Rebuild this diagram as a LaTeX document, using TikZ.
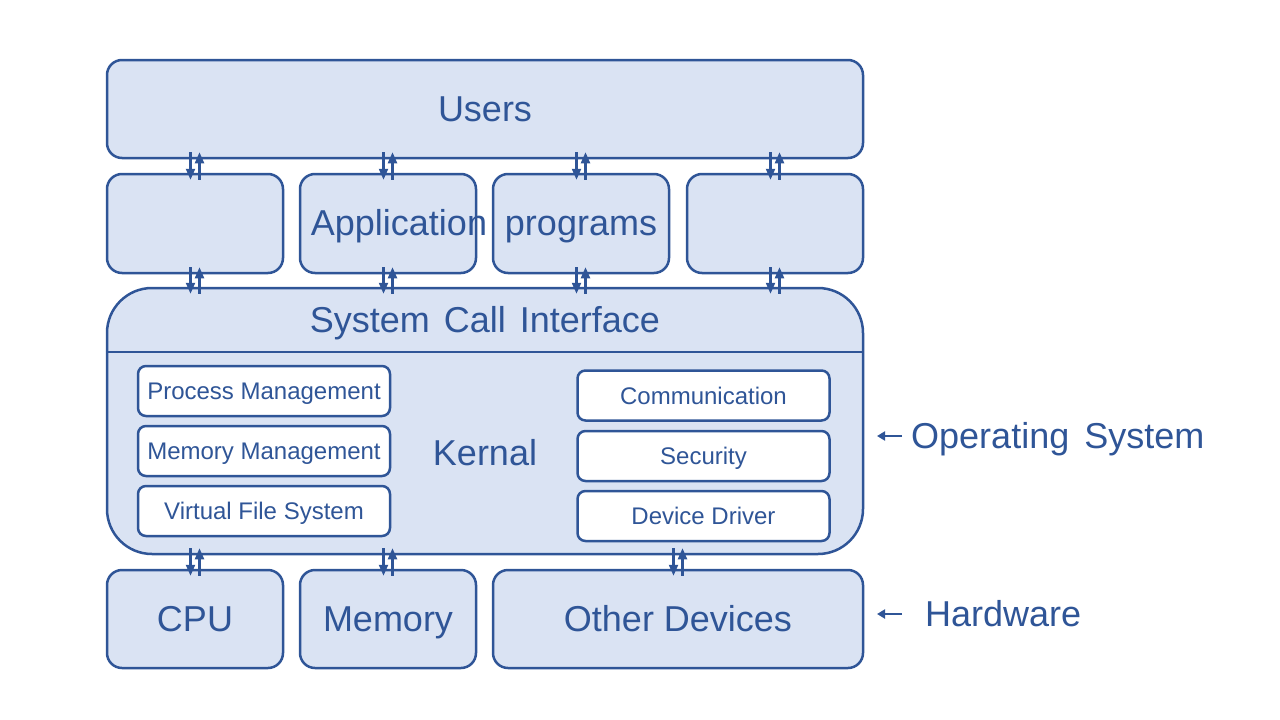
\documentclass[tikz,border=0pt]{standalone}
\usepackage{fontspec}
\setmainfont{Liberation Sans}
\usetikzlibrary{arrows.meta}
\definecolor{osblue}{HTML}{2F5597}
\definecolor{osfill}{HTML}{DAE3F3}

\begin{document}
\begin{tikzpicture}[x=1pt,y=-1pt,
  big/.style={font=\fontsize{36}{40}\selectfont, text=osblue, text height=25.8pt, text depth=0pt, inner sep=0pt},
  small/.style={font=\fontsize{24}{28}\selectfont, text=osblue, text height=17.2pt, text depth=0pt, inner sep=0pt},
  box/.style={draw=osblue, fill=osfill, line width=2.5pt, rounded corners=15pt},
  part/.style={small, draw=osblue, fill=white, line width=2.5pt, rounded corners=8pt, minimum width=252pt, minimum height=50pt},
  flow/.style={draw=osblue, line width=2.2pt, -{Triangle[length=11pt,width=9pt]}},
  pointer/.style={draw=osblue, line width=2.5pt, -{Triangle[length=8pt,width=9pt]}}]
\useasboundingbox (0,0) rectangle (1280,720);

\node[box, big, minimum width=756pt, minimum height=98pt] (users) at (485,109) {Users};

\node[box, minimum width=176pt, minimum height=99pt] (app1) at (195,223.5) {};
\node[box, minimum width=176pt, minimum height=99pt] (app2) at (388,223.5) {};
\node[box, minimum width=176pt, minimum height=99pt] (app3) at (581,223.5) {};
\node[box, minimum width=176pt, minimum height=99pt] (app4) at (775,223.5) {};
\node[big] (applbl) at (399,223) {Application};
\node[big] (proglbl) at (581,223) {programs};

\node[box, rounded corners=45pt, minimum width=756pt, minimum height=266pt] (os) at (485,421) {};
\coordinate (sep) at (485,352);
\draw[osblue, line width=2.5pt] (os.west |- sep) -- (os.east |- sep);
\node[big] (sci) at (485,319.5) {System\hspace{14pt}Call\hspace{14pt}Interface};
\node[big] (kern) at (485,453) {Kernal};

\node[part] (proc) at (264,391) {Process Management};
\node[part] (memm) at (264,451) {Memory Management};
\node[part] (vfs) at (264,511) {Virtual File System};
\node[part] (comm) at (703.5,395.5) {Communication};
\node[part] (sec) at (703.5,456) {Security};
\node[part] (drv) at (703.5,516) {Device Driver};

\node[box, big, minimum width=176pt, minimum height=98pt] (cpu) at (195,619) {CPU};
\node[box, big, minimum width=176pt, minimum height=98pt] (mem) at (388,619) {Memory};
\node[box, big, minimum width=370pt, minimum height=98pt] (dev) at (678,619) {Other Devices};

\foreach \b in {app1,app2,app3,app4} {
  \draw[flow] ([xshift=-4.5pt,yshift=7pt]\b.north |- users.south) -- ([xshift=-4.5pt,yshift=-7pt]\b.north);
  \draw[flow] ([xshift=4.5pt,yshift=-7pt]\b.north) -- ([xshift=4.5pt,yshift=7pt]\b.north |- users.south);
  \draw[flow] ([xshift=-4.5pt,yshift=7pt]\b.south) -- ([xshift=-4.5pt,yshift=-7pt]\b.south |- os.north);
  \draw[flow] ([xshift=4.5pt,yshift=-7pt]\b.south |- os.north) -- ([xshift=4.5pt,yshift=7pt]\b.south);
}
\foreach \b in {cpu,mem,dev} {
  \draw[flow] ([xshift=-4.5pt,yshift=7pt]\b.north |- os.south) -- ([xshift=-4.5pt,yshift=-7pt]\b.north);
  \draw[flow] ([xshift=4.5pt,yshift=-7pt]\b.north) -- ([xshift=4.5pt,yshift=7pt]\b.north |- os.south);
}

\node[big, anchor=west] (oslbl) at (911,436) {Operating\hspace{15pt}System};
\node[big, anchor=west] (hwlbl) at (925,614) {Hardware};
\coordinate (osend) at (877,436);
\coordinate (hwend) at (877,614);
\draw[pointer] ([xshift=-9pt]oslbl.west) -- (osend);
\draw[pointer] ([xshift=-23pt]hwlbl.west) -- (hwend);
\end{tikzpicture}
\end{document}
